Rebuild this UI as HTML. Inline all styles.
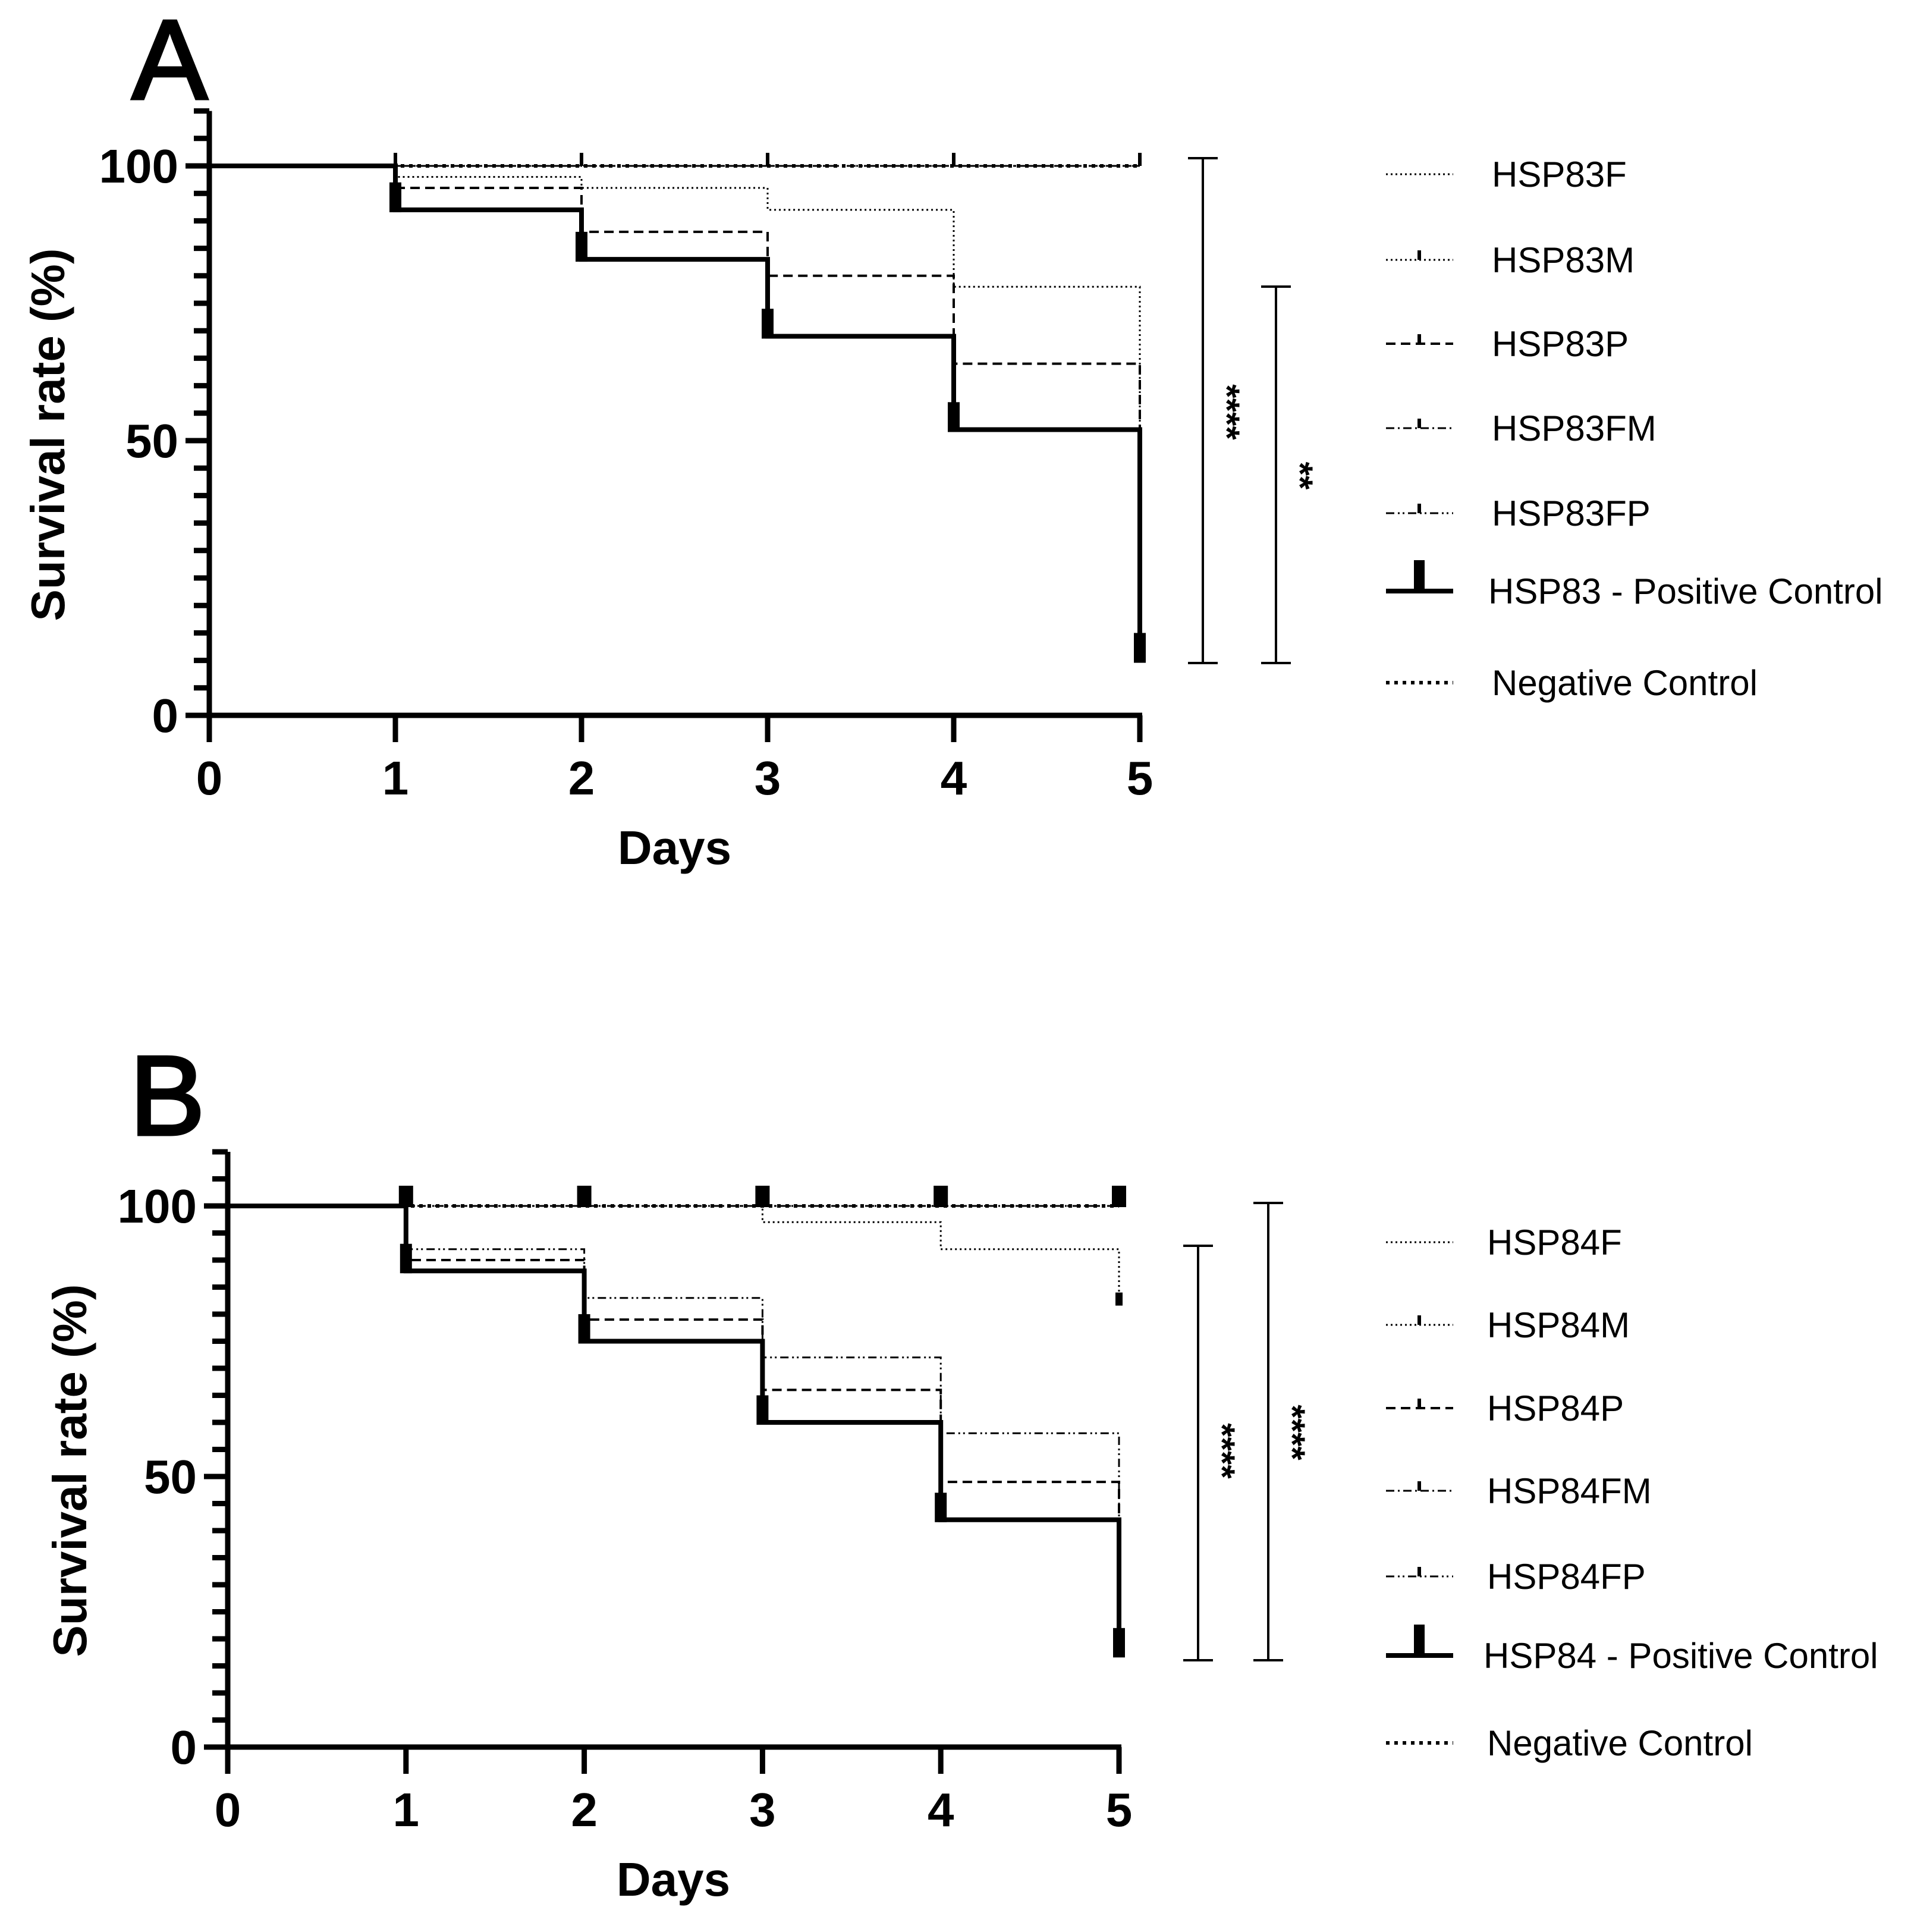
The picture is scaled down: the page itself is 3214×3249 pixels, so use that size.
<!DOCTYPE html>
<html><head><meta charset="utf-8"><style>
html,body{margin:0;padding:0;background:#fff;}
svg{display:block;}
text{font-family:"Liberation Sans",Arial,sans-serif;fill:#000;}
</style></head>
<body>
<svg id="fig" width="3214" height="3249" viewBox="0 0 3214 3249" xmlns="http://www.w3.org/2000/svg"></svg>
<script>
// ---- Data ----
const days = [0, 1, 2, 3, 4, 5];
const yTicks = [0, 50, 100];
const xTicks = [0, 1, 2, 3, 4, 5];

// Panel A (HSP83)
const a83F   = [100, 98, 96, 92, 78, 52];
const a83M   = [100, 100, 100, 100, 100, 100];
const a83P   = [100, 96, 88, 80, 64, 52];
const a83FM  = [100, 100, 100, 100, 100, 100];
const a83FP  = [100, 100, 100, 100, 100, 100];
const a83Pos = [100, 92, 83, 69, 52, 10];
const a83Neg = [100, 100, 100, 100, 100, 100];
const aLegend = ["HSP83F","HSP83M","HSP83P","HSP83FM","HSP83FP","HSP83 - Positive Control","Negative Control"];
const aSig = ["****","**"];

// Panel B (HSP84)
const b84F   = [100, 100, 100, 97, 92, 84];
const b84M   = [100, 100, 100, 100, 100, 100];
const b84P   = [100, 90, 79, 66, 49, 42];
const b84FM  = [100, 100, 100, 100, 100, 100];
const b84FP  = [100, 92, 83, 72, 58, 42];
const b84Pos = [100, 88, 75, 60, 42, 17];
const b84Neg = [100, 100, 100, 100, 100, 100];
const bLegend = ["HSP84F","HSP84M","HSP84P","HSP84FM","HSP84FP","HSP84 - Positive Control","Negative Control"];
const bSig = ["****","****"];

const NS = "http://www.w3.org/2000/svg";
const svg = document.getElementById('fig');
function mk(tag, attrs, parent){
  const e = document.createElementNS(NS, tag);
  for (const k in attrs) e.setAttribute(k, attrs[k]);
  (parent||svg).appendChild(e);
  return e;
}

const styles = {
  F:   {w:3, dash:"3 5"},
  M:   {w:3, dash:"3 5"},
  P:   {w:4, dash:"16 9"},
  FM:  {w:3, dash:"14 6 3 6"},
  FP:  {w:3, dash:"14 6 3 5 3 6"},
  Pos: {w:8, dash:""},
  Neg: {w:6, dash:"6 8"}
};

function panel(cfg){
  const g = mk('g', {});
  
  
  const X = d => cfg.x0 + (cfg.x5 - cfg.x0) * d / 5;
  const Y = v => cfg.y0 - (cfg.y0 - cfg.y100) * v / 100;

  const L = mk('text', {x: cfg.letterX, y: cfg.letterY, 'font-size': 190, stroke:'#000', 'stroke-width':5}, g);
  L.textContent = cfg.letter;
  
  

  const ax = mk('g', {stroke:'#000', 'stroke-width':9, fill:'none'}, g);
  
  
  mk('line', {x1:cfg.x0, y1:Y(110), x2:cfg.x0, y2:cfg.y0+45}, ax);
  mk('line', {x1:cfg.x0-40, y1:cfg.y0, x2:cfg.x5+4, y2:cfg.y0}, ax);
  for (let v = 0; v <= 110; v += 5){
    const len = (v % 50 === 0) ? 40 : 26;
    mk('line', {x1:cfg.x0-len, y1:Y(v), x2:cfg.x0, y2:Y(v)}, ax);
  }
  xTicks.forEach(d => { mk('line', {x1:X(d), y1:cfg.y0, x2:X(d), y2:cfg.y0+45}, ax); });

  yTicks.forEach(v => {
    const t = mk('text', {x:cfg.x0-52, y:Y(v)+28, 'font-size':80, 'font-weight':'bold', 'text-anchor':'end'}, g);
    t.textContent = v;
    
    
  });
  xTicks.forEach(d => {
    const t = mk('text', {x:X(d), y:cfg.y0+133, 'font-size':80, 'font-weight':'bold', 'text-anchor':'middle'}, g);
    t.textContent = d;
    
    
  });
  const xt = mk('text', {x:(cfg.x0+cfg.x5)/2, y:cfg.y0+250, 'font-size':80, 'font-weight':'bold', 'text-anchor':'middle'}, g);
  xt.textContent = 'Days';
  
  
  const yt = mk('text', {x:0, y:0, 'font-size':80, 'font-weight':'bold', 'text-anchor':'middle', transform:`translate(${cfg.ytX},${(cfg.y0+cfg.y100)/2-10}) rotate(-90)`}, g);
  yt.textContent = 'Survival rate (%)';
  
  

  cfg.series.forEach(s => {
    const st = styles[s.key];
    let d = `M${X(days[0])},${Y(s.vals[0])}`;
    for (let i = 1; i < days.length; i++){
      d += ` L${X(days[i])},${Y(s.vals[i-1])} L${X(days[i])},${Y(s.vals[i])}`;
    }
    const p = mk('path', {d:d, fill:'none', stroke:'#000', 'stroke-width':st.w, 'stroke-dasharray':st.dash}, g);
    
    
    if (s.key === 'Pos'){
      for (let i = 1; i < days.length; i++){
        if (s.vals[i] === s.vals[i-1]) continue;
        const r = mk('rect', {x:X(days[i])-10, y:Y(s.vals[i]+5), width:20, height:Y(s.vals[i])-Y(s.vals[i]+5)+4, fill:'#000'}, g);
        
        
      }
    } else if (s.key === 'Neg' && cfg.negBlocks){
      for (let i = 1; i < days.length; i++){
        const r = mk('rect', {x:X(days[i])-12, y:Y(s.vals[i])-34, width:24, height:36, fill:'#000'}, g);
        
        
      }
    } else if (s.key === 'M'){
      for (let i = 1; i < days.length; i++){
        const r = mk('rect', {x:X(days[i])-3, y:Y(s.vals[i])-22, width:6, height:22, fill:'#000'}, g);
        
        
      }
    }
  });
  if (cfg.endMark){
    const r = mk('rect', {x:X(5)-6, y:Y(cfg.endMark), width:12, height:22, fill:'#000'}, g);
    
    
  }

  cfg.brackets.forEach((b, i) => {
    const bg = mk('g', {stroke:'#000', 'stroke-width':4}, g);
    
    
    mk('line', {x1:b.x, y1:b.top, x2:b.x, y2:b.bot}, bg);
    mk('line', {x1:b.x-25, y1:b.top, x2:b.x+25, y2:b.top}, bg);
    mk('line', {x1:b.x-25, y1:b.bot, x2:b.x+25, y2:b.bot}, bg);
    const t = mk('text', {x:0, y:0, 'font-size':60, 'font-weight':'bold', 'text-anchor':'middle', transform:`translate(${b.x+20},${b.ly}) rotate(90)`}, g);
    t.textContent = cfg.sig[i];
    
    
  });

  const keys = ['F','M','P','FM','FP','Pos','Neg'];
  cfg.legendY.forEach((ly, i) => {
    const lg = mk('g', {}, g);
    
    
    const st = styles[keys[i]];
    mk('line', {x1:2331, y1:ly, x2:2444, y2:ly, stroke:'#000', 'stroke-width':st.w, 'stroke-dasharray':st.dash}, lg);
    if (keys[i] === 'Pos') mk('rect', {x:2378, y:ly-52, width:18, height:52, fill:'#000'}, lg);
    else if (keys[i] !== 'F' && keys[i] !== 'Neg') mk('rect', {x:2384, y:ly-16, width:6, height:16, fill:'#000'}, lg);
    const t = mk('text', {x: keys[i]==='Pos' ? cfg.legendX-6 : cfg.legendX, y:ly+21, 'font-size':60}, lg);
    t.textContent = cfg.legend[i];
  });
}

panel({
  name:'panel-a', letter:'A', letterX:222, letterY:166,
  x0:352, x5:1917, y0:1203, y100:279, ytX:108,
  series:[
    {key:'F', label:'HSP83F', vals:a83F},
    {key:'P', label:'HSP83P', vals:a83P},
    {key:'FM', label:'HSP83FM', vals:a83FM},
    {key:'FP', label:'HSP83FP', vals:a83FP},
    {key:'M', label:'HSP83M', vals:a83M},
    {key:'Neg', label:'Negative Control', vals:a83Neg},
    {key:'Pos', label:'HSP83 Positive Control', vals:a83Pos}
  ],
  negBlocks:false,
  brackets:[{x:2023, top:266, bot:1115, ly:693},{x:2146, top:482, bot:1115, ly:800}],
  sig:aSig, legend:aLegend, legendX:2509,
  legendY:[293,437,578,720,863,994,1148]
});

panel({
  name:'panel-b', letter:'B', letterX:218, letterY:1908,
  x0:383, x5:1882, y0:2938, y100:2028, ytX:145,
  series:[
    {key:'F', label:'HSP84F', vals:b84F},
    {key:'P', label:'HSP84P', vals:b84P},
    {key:'FM', label:'HSP84FM', vals:b84FM},
    {key:'FP', label:'HSP84FP', vals:b84FP},
    {key:'M', label:'HSP84M', vals:b84M},
    {key:'Neg', label:'Negative Control', vals:b84Neg},
    {key:'Pos', label:'HSP84 Positive Control', vals:b84Pos}
  ],
  negBlocks:true, endMark:84,
  brackets:[{x:2015, top:2095, bot:2792, ly:2440},{x:2133, top:2023, bot:2792, ly:2409}],
  sig:bSig, legend:bLegend, legendX:2501,
  legendY:[2089,2228,2368,2507,2651,2784,2931]
});
</script>
</body></html>
